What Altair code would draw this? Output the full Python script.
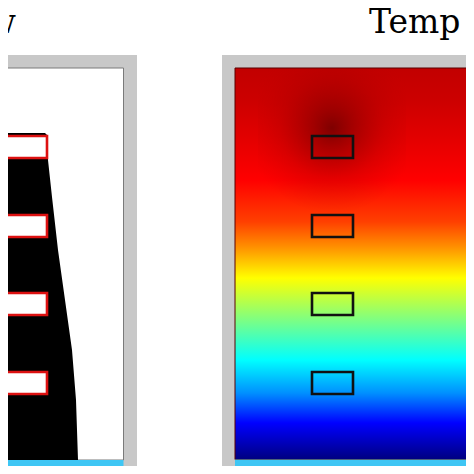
import altair as alt
import pandas as pd

# Figure coordinates (page pixels of the reference picture)
X_DOMAIN = [8, 466]
Y_DOMAIN = [8, 466]

# gray frames of the two panels
frame_x0 = [-80, 222]
frame_x1 = [137, 560]
frame_y0 = [55, 55]
frame_y1 = [500, 500]

# inner domains (left: white/black view, right: temperature field)
left_inner = dict(x=-80, x2=123.5, y=68, y2=460)
right_inner = dict(x=235, x2=560, y=68, y2=459.5)

# light-blue base strips
base_x0 = [-80, 235]
base_x1 = [123.5, 560]
base_y0 = [460, 459.5]
base_y1 = [500, 500]

# heat-source rectangles
hole_top = [136, 215, 293, 372]
hole_bottom = [158, 237, 315, 394]
hole_left_x = [5, 47]
hole_right_x = [312, 353]

# black body outline (right edge) in the left panel
body_y = [133, 135, 160, 197, 250, 300, 350, 400, 460]
body_x = [45, 47, 48, 52, 58, 65, 72, 76, 78]

# temperature colour profile (jet) along the right panel
temp_y = [68, 100, 140, 180, 222, 247, 278, 319, 360, 393, 423, 459.5]
temp_color = ["#c20000", "#cc0000", "#e40000", "#ff0000", "#ff4000", "#ff9000",
              "#ffff00", "#80ff80", "#00ffff", "#0090ff", "#0000ff", "#000080"]

# hot spot around the top source
hot_box = dict(x=258, x2=406, y=68, y2=240)
hot_center_y = 128
hot_stop_offset = [0.0, 0.25, 0.6, 1.0]
hot_stop_color = ["rgba(110,0,0,0.85)", "rgba(130,0,0,0.6)",
                  "rgba(155,0,0,0.25)", "rgba(190,0,0,0)"]

titles_left = ["Flow"]
titles_right = ["Temp"]

xs = alt.Scale(domain=X_DOMAIN, nice=False, zero=False)
ys = alt.Scale(domain=Y_DOMAIN, nice=False, zero=False, reverse=True)


def X(f):
    return alt.X(f, type="quantitative", scale=xs, axis=None)


def Y(f):
    return alt.Y(f, type="quantitative", scale=ys, axis=None)


frames = pd.DataFrame({"x": frame_x0, "x2": frame_x1, "y": frame_y0, "y2": frame_y1})
frame_layer = alt.Chart(frames).mark_rect(color="#c8c8c8", clip=True).encode(
    x=X("x"), x2="x2", y=Y("y"), y2="y2")

left_df = pd.DataFrame([left_inner])
left_layer = alt.Chart(left_df).mark_rect(
    fill="white", stroke="#7a7a7a", strokeWidth=1, clip=True).encode(
    x=X("x"), x2="x2", y=Y("y"), y2="y2")

h0, h1 = right_inner["y"], right_inner["y2"]
stops = [alt.GradientStop(color=c, offset=(yy - h0) / (h1 - h0))
         for yy, c in zip(temp_y, temp_color)]
right_df = pd.DataFrame([right_inner])
right_layer = alt.Chart(right_df).mark_rect(
    fill=alt.LinearGradient(gradient="linear", x1=0, x2=0, y1=0, y2=1, stops=stops),
    stroke="#5a0000", strokeWidth=1, clip=True).encode(
    x=X("x"), x2="x2", y=Y("y"), y2="y2")

cy = (hot_center_y - hot_box["y"]) / (hot_box["y2"] - hot_box["y"])
hot_stops = [alt.GradientStop(color=c, offset=o) for o, c in zip(hot_stop_offset, hot_stop_color)]
hot_df = pd.DataFrame([hot_box])
hot_layer = alt.Chart(hot_df).mark_rect(
    fill=alt.RadialGradient(gradient="radial", x1=0.5, y1=cy, r1=0,
                            x2=0.5, y2=cy, r2=0.5, stops=hot_stops),
    clip=True).encode(x=X("x"), x2="x2", y=Y("y"), y2="y2")

base = pd.DataFrame({"x": base_x0, "x2": base_x1, "y": base_y0, "y2": base_y1})
base_layer = alt.Chart(base).mark_rect(color="#3ec6f4", clip=True).encode(
    x=X("x"), x2="x2", y=Y("y"), y2="y2")

body = pd.DataFrame({"y": body_y, "x": body_x, "x2": [-80] * len(body_y)})
body_layer = alt.Chart(body).mark_area(
    orient="horizontal", color="black", clip=True).encode(
    y=Y("y"), x=X("x"), x2="x2")

holes_l = pd.DataFrame({"y": hole_top, "y2": hole_bottom,
                        "x": [hole_left_x[0]] * 4, "x2": [hole_left_x[1]] * 4})
holes_l_layer = alt.Chart(holes_l).mark_rect(
    fill="white", stroke="#dd1111", strokeWidth=2.6, clip=True).encode(
    x=X("x"), x2="x2", y=Y("y"), y2="y2")

holes_r = pd.DataFrame({"y": hole_top, "y2": hole_bottom,
                        "x": [hole_right_x[0]] * 4, "x2": [hole_right_x[1]] * 4})
holes_r_layer = alt.Chart(holes_r).mark_rect(
    fill=None, filled=False, stroke="#111111", strokeWidth=2.6, clip=True).encode(
    x=X("x"), x2="x2", y=Y("y"), y2="y2")

tl = pd.DataFrame({"t": titles_left, "x": [16], "y": [33]})
tl_layer = alt.Chart(tl).mark_text(
    align="right", baseline="alphabetic", font="DejaVu Serif", fontSize=33,
    color="black").encode(x=X("x"), y=Y("y"), text="t")

tr = pd.DataFrame({"t": titles_right, "x": [369], "y": [33]})
tr_layer = alt.Chart(tr).mark_text(
    align="left", baseline="alphabetic", font="DejaVu Serif", fontSize=33,
    color="black").encode(x=X("x"), y=Y("y"), text="t")

chart = alt.layer(
    frame_layer, left_layer, right_layer, hot_layer, base_layer, body_layer,
    holes_l_layer, holes_r_layer, tl_layer, tr_layer
).properties(
    width=458, height=458, padding=0, autosize=alt.AutoSizeParams(type="none"),
    background="white"
).configure_view(stroke=None)

chart.save("out.html", embed_options={"renderer": "svg", "actions": False})
